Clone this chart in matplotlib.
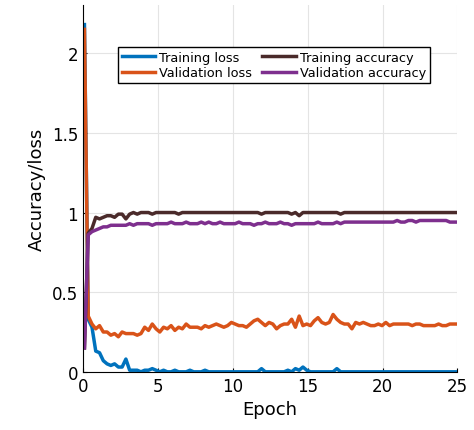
import numpy as np
import matplotlib.pyplot as plt

train_loss = [2.18, 0.33, 0.28, 0.13, 0.12, 0.07, 0.05, 0.04, 0.05, 0.03, 0.03, 0.08, 0.01, 0.01, 0.01, 0.00, 0.01, 0.01, 0.02, 0.01,
              0.00, 0.01, 0.00, 0.00, 0.01, 0.00, 0.00, 0.00, 0.01, 0.00, 0.00, 0.00, 0.01, 0.00, 0.00, 0.00, 0.00, 0.00, 0.00, 0.00,
              0.00, 0.00, 0.00, 0.00, 0.00, 0.00, 0.00, 0.02, 0.00, 0.00, 0.00, 0.00, 0.00, 0.00, 0.01, 0.00, 0.02, 0.01, 0.03, 0.01,
              0.00, 0.00, 0.00, 0.00, 0.00, 0.00, 0.00, 0.02, 0.00, 0.00, 0.00, 0.00, 0.00, 0.00, 0.00, 0.00, 0.00, 0.00, 0.00, 0.00,
              0.00, 0.00, 0.00, 0.00, 0.00, 0.00, 0.00, 0.00, 0.00, 0.00, 0.00, 0.00, 0.00, 0.00, 0.00, 0.00, 0.00, 0.00, 0.00, 0.00]
val_loss = [2.15, 0.35, 0.30, 0.27, 0.29, 0.25, 0.25, 0.23, 0.24, 0.22, 0.25, 0.24, 0.24, 0.24, 0.23, 0.24, 0.28, 0.26, 0.30, 0.27,
            0.25, 0.28, 0.27, 0.29, 0.26, 0.28, 0.27, 0.30, 0.28, 0.28, 0.28, 0.27, 0.29, 0.28, 0.29, 0.30, 0.29, 0.28, 0.29, 0.31,
            0.30, 0.29, 0.29, 0.28, 0.30, 0.32, 0.33, 0.31, 0.29, 0.31, 0.30, 0.27, 0.29, 0.30, 0.30, 0.33, 0.28, 0.35, 0.29, 0.30,
            0.29, 0.32, 0.34, 0.31, 0.30, 0.31, 0.36, 0.33, 0.31, 0.30, 0.30, 0.27, 0.31, 0.30, 0.31, 0.30, 0.29, 0.29, 0.30, 0.29,
            0.31, 0.29, 0.30, 0.30, 0.30, 0.30, 0.30, 0.29, 0.30, 0.30, 0.29, 0.29, 0.29, 0.29, 0.30, 0.29, 0.29, 0.30, 0.30, 0.30]
train_acc = [0.15, 0.87, 0.90, 0.97, 0.96, 0.97, 0.98, 0.98, 0.97, 0.99, 0.99, 0.96, 0.99, 1.00, 0.99, 1.00, 1.00, 1.00, 0.99, 1.00,
             1.00, 1.00, 1.00, 1.00, 1.00, 0.99, 1.00, 1.00, 1.00, 1.00, 1.00, 1.00, 1.00, 1.00, 1.00, 1.00, 1.00, 1.00, 1.00, 1.00,
             1.00, 1.00, 1.00, 1.00, 1.00, 1.00, 1.00, 0.99, 1.00, 1.00, 1.00, 1.00, 1.00, 1.00, 1.00, 0.99, 1.00, 0.98, 1.00, 1.00,
             1.00, 1.00, 1.00, 1.00, 1.00, 1.00, 1.00, 1.00, 0.99, 1.00, 1.00, 1.00, 1.00, 1.00, 1.00, 1.00, 1.00, 1.00, 1.00, 1.00,
             1.00, 1.00, 1.00, 1.00, 1.00, 1.00, 1.00, 1.00, 1.00, 1.00, 1.00, 1.00, 1.00, 1.00, 1.00, 1.00, 1.00, 1.00, 1.00, 1.00]
val_acc = [0.15, 0.86, 0.88, 0.89, 0.90, 0.91, 0.91, 0.92, 0.92, 0.92, 0.92, 0.92, 0.93, 0.92, 0.93, 0.93, 0.93, 0.93, 0.92, 0.93,
           0.93, 0.93, 0.93, 0.94, 0.93, 0.93, 0.93, 0.94, 0.93, 0.93, 0.93, 0.94, 0.93, 0.94, 0.93, 0.93, 0.94, 0.93, 0.93, 0.93,
           0.93, 0.94, 0.93, 0.93, 0.93, 0.92, 0.93, 0.93, 0.94, 0.93, 0.93, 0.93, 0.94, 0.93, 0.93, 0.92, 0.93, 0.93, 0.93, 0.93,
           0.93, 0.93, 0.94, 0.93, 0.93, 0.93, 0.93, 0.94, 0.93, 0.94, 0.94, 0.94, 0.94, 0.94, 0.94, 0.94, 0.94, 0.94, 0.94, 0.94,
           0.94, 0.94, 0.94, 0.95, 0.94, 0.94, 0.95, 0.95, 0.94, 0.95, 0.95, 0.95, 0.95, 0.95, 0.95, 0.95, 0.95, 0.94, 0.94, 0.94]
epochs = np.linspace(0.1, 25, len(train_loss))

fig, ax = plt.subplots(figsize=(4.74, 4.31), dpi=100)
fig.subplots_adjust(left=0.175, right=0.965, top=0.985, bottom=0.135)
ax.plot(epochs, train_loss, color='#0072BD', lw=2.5, label='Training loss')
ax.plot(epochs, val_loss, color='#D95319', lw=2.5, label='Validation loss')
ax.plot(epochs, train_acc, color='#4A2A2A', lw=2.5, label='Training accuracy')
ax.plot(epochs, val_acc, color='#7E2F8E', lw=2.5, label='Validation accuracy')

ax.set_xlim(0, 25)
ax.set_ylim(0, 2.3)
ax.set_xticks([0, 5, 10, 15, 20, 25])
ax.set_yticks([0, 0.5, 1, 1.5, 2])
ax.set_yticklabels(['0', '0.5', '1', '1.5', '2'])
ax.tick_params(labelsize=12, direction='in', length=3)
ax.grid(True, color='#e4e4e4', lw=0.8)
ax.set_xlabel('Epoch', fontsize=13)
ax.set_ylabel('Accuracy/loss', fontsize=13)
for s in ['top', 'right']:
    ax.spines[s].set_visible(False)
ax.legend(ncol=2, loc='upper center', bbox_to_anchor=(0.51, 0.905), fontsize=9.3,
          fancybox=False, edgecolor='black', framealpha=1, handlelength=2.6,
          columnspacing=0.8, handletextpad=0.3, borderpad=0.3, labelspacing=0.2)

plt.savefig('out.png', dpi=100)
